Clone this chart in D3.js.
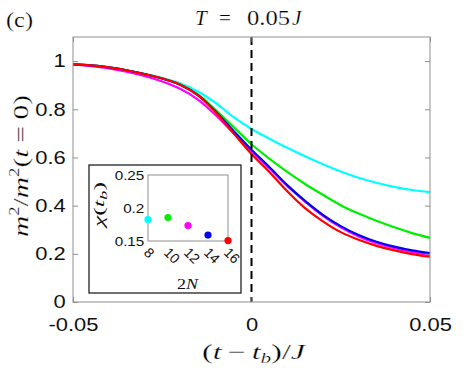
<!DOCTYPE html>
<html><head><meta charset="utf-8">
<script src="https://cdn.jsdelivr.net/npm/d3@7"></script>
<style>
body{margin:0;background:#fff;}
text{fill:#111;}
.thin{stroke:#fff;stroke-width:0.22px;fill:#000;}
</style></head>
<body>
<svg id="c" width="474" height="369"></svg>
<script>
const tVals = [-0.05,-0.045,-0.04,-0.035,-0.03,-0.025,-0.02,-0.015,-0.01,-0.005,0,0.005,0.01,0.015,0.02,0.025,0.03,0.035,0.04,0.045,0.05];
const seriesNames = ["8","10","12","14","16"];
const seriesColors = ["#00ffff","#00ee00","#ff00ff","#0000ee","#ff0000"];
const cyanVals    = [0.986,0.982,0.974,0.962,0.947,0.930,0.908,0.874,0.826,0.767,0.718,0.678,0.640,0.605,0.572,0.542,0.516,0.495,0.478,0.465,0.456];
const greenVals   = [0.986,0.982,0.974,0.962,0.946,0.928,0.903,0.862,0.797,0.726,0.655,0.595,0.540,0.490,0.445,0.402,0.367,0.337,0.310,0.286,0.266];
const magentaVals = [0.986,0.979,0.970,0.956,0.938,0.915,0.885,0.840,0.775,0.700,0.626,0.555,0.482,0.417,0.358,0.310,0.272,0.244,0.223,0.207,0.195];
const blueVals    = [0.986,0.982,0.974,0.962,0.946,0.928,0.902,0.859,0.790,0.710,0.632,0.560,0.485,0.420,0.362,0.315,0.278,0.250,0.230,0.214,0.203];
const redVals     = [0.986,0.982,0.974,0.962,0.946,0.928,0.902,0.858,0.787,0.700,0.614,0.540,0.460,0.390,0.335,0.290,0.258,0.233,0.214,0.199,0.188];
const allVals = [cyanVals, greenVals, magentaVals, blueVals, redVals];
const xTicks = [-0.05, 0, 0.05];
const xTickLabels = ["-0.05","0","0.05"];
const yTicks = [0,0.2,0.4,0.6,0.8,1];
const yTickLabels = ["0","0.2","0.4","0.6","0.8","1"];
// inset
const insetN = [8,10,12,14,16];
const insetChi = [0.1826,0.1856,0.1734,0.159,0.1506];
const insetYTicks = [0.15,0.2,0.25];
const insetYTickLabels = ["0.15","0.2","0.25"];

const svg = d3.select("#c");
const L=73,R=430,T=37,B=302;
const x = d3.scaleLinear().domain([-0.05,0.05]).range([L,R]);
const y = d3.scaleLinear().domain([0,1.1]).range([B,T]);
const frameCol = "#8f8f8f";
const sansF = "'Liberation Sans', Arial, sans-serif";
const serifF = "'Liberation Serif','DejaVu Serif', serif";
const SX = 1.22;

// curves
const line = d3.line().x((d,i)=>x(tVals[i])).y(d=>y(d)).curve(d3.curveCatmullRom.alpha(0.5));
allVals.forEach((vals,k)=>{
  svg.append("path").attr("d",line(vals)).attr("fill","none")
    .attr("stroke",seriesColors[k]).attr("stroke-width",2.2);
});

// dashed line at t=0
svg.append("line").attr("x1",x(0)).attr("x2",x(0)).attr("y1",T).attr("y2",B)
  .attr("stroke","#000").attr("stroke-width",2).attr("stroke-dasharray","8,5");

// frame
svg.append("rect").attr("x",L).attr("y",T).attr("width",R-L).attr("height",B-T)
  .attr("fill","none").attr("stroke",frameCol).attr("stroke-width",1);

// axes
const xAx = svg.append("g").attr("transform",`translate(0,${B})`)
  .call(d3.axisBottom(x).tickValues(xTicks).tickFormat((d,i)=>xTickLabels[i]).tickSize(-5).tickPadding(16));
const xAxT = svg.append("g").attr("transform",`translate(0,${T})`)
  .call(d3.axisTop(x).tickValues(xTicks).tickFormat("").tickSize(-5));
const yAx = svg.append("g").attr("transform",`translate(${L},0)`)
  .call(d3.axisLeft(y).tickValues(yTicks).tickFormat((d,i)=>yTickLabels[i]).tickSize(-5).tickPadding(6));
const yAxR = svg.append("g").attr("transform",`translate(${R},0)`)
  .call(d3.axisRight(y).tickValues(yTicks).tickFormat("").tickSize(-5));
[xAx,xAxT,yAx,yAxR].forEach(g=>{
  g.select(".domain").remove();
  g.selectAll("line").attr("stroke",frameCol);
  g.selectAll("text").attr("font-family",sansF).attr("font-size",18).attr("fill","#111")
    .attr("transform",`scale(${SX},1)`);
});

// title (pieces placed to match LaTeX spacing)
const tf = 21;
svg.append("text").attr("class","thin").attr("x",195).attr("y",25).attr("font-family",serifF).attr("font-size",tf)
  .attr("font-style","italic").text("T");
svg.append("text").attr("class","thin").attr("x",225).attr("y",25).attr("text-anchor","middle").attr("font-family",serifF).attr("font-size",tf).text("=");
svg.append("text").attr("class","thin").attr("x",247).attr("y",25).attr("font-family",serifF).attr("font-size",tf)
  .attr("textLength",43).attr("lengthAdjust","spacingAndGlyphs").text("0.05");
svg.append("text").attr("class","thin").attr("x",292).attr("y",25).attr("font-family",serifF).attr("font-size",tf)
  .attr("font-style","italic").text("J");
svg.append("text").attr("class","thin").attr("x",6).attr("y",27).attr("font-family",serifF).attr("font-size",20)
  .attr("textLength",27).attr("lengthAdjust","spacingAndGlyphs").text("(c)");

// y label
svg.append("text").attr("class","thin").attr("transform","translate(28,237) rotate(-90)")
  .attr("font-family",serifF).attr("font-size",22)
  .attr("textLength",142).attr("lengthAdjust","spacingAndGlyphs")
  .html('<tspan font-style="italic">m</tspan><tspan font-size="14" dy="-9">2</tspan><tspan dy="9">/</tspan><tspan font-style="italic">m</tspan><tspan font-size="14" dy="-9">2</tspan><tspan dy="9">(</tspan><tspan font-style="italic">t</tspan><tspan dx="5">=</tspan><tspan dx="5">0)</tspan>');
// x label
svg.append("text").attr("class","thin").attr("x",202).attr("y",359)
  .attr("font-family",serifF).attr("font-size",21)
  .attr("textLength",103).attr("lengthAdjust","spacingAndGlyphs")
  .html('(<tspan font-style="italic">t</tspan><tspan dx="4">−</tspan><tspan dx="4" font-style="italic">t</tspan><tspan font-style="italic" font-size="14" dy="4">b</tspan><tspan dy="-4">)/</tspan><tspan font-style="italic">J</tspan>');

// inset
svg.append("rect").attr("x",89).attr("y",165).attr("width",152).attr("height",128)
  .attr("fill","#fff").attr("stroke","#222").attr("stroke-width",1.3);
const iL=148,iR=228,iT=175,iB=241;
const ix = d3.scaleLinear().domain([8,16]).range([iL,iR]);
const iy = d3.scaleLinear().domain([0.15,0.25]).range([iB,iT]);
svg.append("rect").attr("x",iL).attr("y",iT).attr("width",iR-iL).attr("height",iB-iT)
  .attr("fill","none").attr("stroke",frameCol).attr("stroke-width",1);
const ixAx = svg.append("g").attr("transform",`translate(0,${iB})`)
  .call(d3.axisBottom(ix).tickValues(insetN).tickFormat(d=>d).tickSize(0));
ixAx.select(".domain").remove();
ixAx.selectAll("text").attr("font-family",sansF).attr("font-size",14).attr("fill","#111")
  .attr("text-anchor","start").attr("y",0).attr("dy","0.35em")
  .attr("transform","translate(-2,9) rotate(45)");
const iyAx = svg.append("g").attr("transform",`translate(${iL},0)`)
  .call(d3.axisLeft(iy).tickValues(insetYTicks).tickFormat((d,i)=>insetYTickLabels[i]).tickSize(0).tickPadding(3));
iyAx.select(".domain").remove();
iyAx.selectAll("text").attr("font-family",sansF).attr("font-size",12.5).attr("fill","#111")
  .attr("transform",`scale(${SX},1)`);
svg.selectAll(".ipt").data(insetN).enter().append("circle")
  .attr("cx",d=>ix(d)).attr("cy",(d,i)=>iy(insetChi[i])).attr("r",3.6)
  .attr("fill",(d,i)=>seriesColors[i]);
svg.append("text").attr("x",177).attr("y",289)
  .attr("font-family",serifF).attr("font-size",15)
  .attr("textLength",21).attr("lengthAdjust","spacingAndGlyphs")
  .html('2<tspan font-style="italic">N</tspan>');
svg.append("text").attr("transform","translate(104,227) rotate(-90)")
  .attr("font-family",serifF).attr("font-size",15)
  .attr("textLength",45).attr("lengthAdjust","spacingAndGlyphs")
  .html('<tspan font-style="italic">χ</tspan>(<tspan font-style="italic">t</tspan><tspan font-style="italic" font-size="11" dy="3">b</tspan><tspan dy="-3">)</tspan>');
</script>
</body></html>
